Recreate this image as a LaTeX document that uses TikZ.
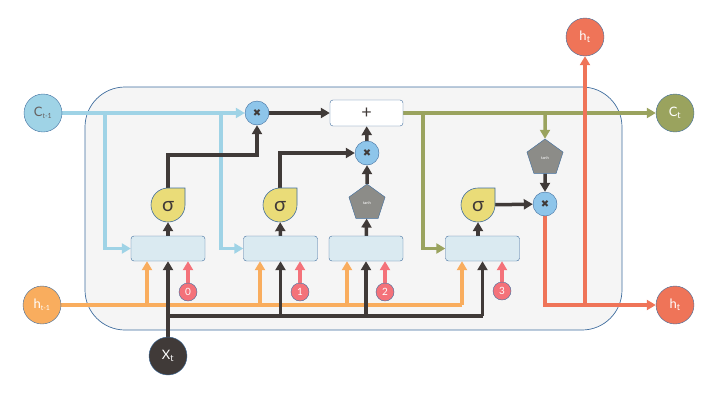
\documentclass[tikz,border=0pt]{standalone}
\usepackage{fontspec}
\setmainfont{Lato}
\newfontfamily\symfont{DejaVu Sans}
\usetikzlibrary{shapes.geometric,arrows.meta}
\definecolor{cblue}{HTML}{9FD3E6}
\definecolor{corange}{HTML}{F9AD5E}
\definecolor{cdark}{HTML}{403A38}
\definecolor{cred}{HTML}{EF7458}
\definecolor{cgreen}{HTML}{9AA35E}
\definecolor{cmul}{HTML}{8EC5EA}
\definecolor{cpink}{HTML}{F4727A}
\definecolor{cgray}{HTML}{8C8C88}
\definecolor{cbox}{HTML}{DAEAF1}
\definecolor{cstroke}{HTML}{3F6D9E}
\definecolor{csig}{HTML}{EADC78}
\pgfdeclarelayer{back}\pgfdeclarelayer{bg}\pgfsetlayers{back,bg,main}
\tikzset{
 io/.style={circle,draw=cstroke,minimum size=38pt,inner sep=0pt,font=\fontsize{13}{13}\selectfont},
 mul/.style={circle,draw=cstroke,fill=cmul,minimum size=24pt,inner sep=0pt,font=\fontsize{10}{10}\selectfont\symfont,text=cdark},
 gbox/.style={rectangle,rounded corners=3pt,draw=cstroke,fill=cbox,minimum width=74pt,minimum height=25pt,inner sep=0pt},
 num/.style={circle,draw=cstroke,fill=cpink,minimum size=18pt,inner sep=0pt,text=white,font=\fontsize{10}{10}\selectfont},
 tanhs/.style={regular polygon,regular polygon sides=5,draw=cstroke,fill=cgray,minimum size=38pt,inner sep=0pt,text=white,font=\fontsize{4}{4}\selectfont},
 sigs/.style={circle,minimum size=34pt,inner sep=0pt,font=\fontsize{20}{20}\selectfont,text=cdark},
 ln/.style={line width=3.5pt,-{Triangle[length=9pt,width=10pt]}},
 lnn/.style={line width=3.5pt},
}
\newcommand\sigshape[1]{\path[draw=cstroke,fill=csig,line width=0.6pt] (#1.center) ++(17,-17) -- ++(0,17) arc[start angle=0,end angle=270,radius=17] -- cycle;}
\begin{document}
\begin{tikzpicture}[x=1pt,y=-1pt]
\useasboundingbox (0,0) rectangle (720,405);
\begin{pgfonlayer}{back}
\draw[cstroke,fill=black!4,rounded corners=40pt,line width=0.7pt] (85,87) rectangle (622,330);
\end{pgfonlayer}
\node[io,fill=cblue,text=cdark!80] (c0) at (43,113) {C\textsubscript{\fontsize{7}{7}\selectfont t-1}};
\node[io,fill=corange,text=white] (h0) at (42,305) {h\textsubscript{\fontsize{7}{7}\selectfont t-1}};
\node[io,fill=cdark,text=white] (x) at (168,356) {X\textsubscript{t}};
\node[io,fill=cred,text=white] (ht) at (585,37) {h\textsubscript{t}};
\node[io,fill=cred,text=white] (hr) at (675,305) {h\textsubscript{t}};
\node[io,fill=cgreen,text=white] (ct) at (675,113) {C\textsubscript{t}};
\node[mul] (m1) at (257,113) {✖};
\node[mul] (m2) at (367,153) {✖};
\node[mul] (m3) at (545,204) {✖};
\node[rectangle,rounded corners=3pt,draw=cstroke,fill=white,minimum width=73pt,minimum height=26pt,font=\fontsize{18}{18}\selectfont,text=cdark] (plus) at (366.5,113) {+};
\node[gbox] (b1) at (168,248.5) {};
\node[gbox] (b2) at (280.5,248.5) {};
\node[gbox] (b3) at (366,248.5) {};
\node[gbox] (b4) at (482.5,248.5) {};
\node[sigs] (s1) at (168,205) {};
\node[sigs] (s2) at (280,205) {};
\node[sigs] (s3) at (478,205) {};
\sigshape{s1}\sigshape{s2}\sigshape{s3}
\node[sigs] at (168,207) {σ};
\node[sigs] at (280,207) {σ};
\node[sigs] at (478,207) {σ};
\node[tanhs] (t1) at (367,203) {tanh};
\node[tanhs] (t2) at (545,158) {tanh};
\node[num] (n0) at (188,292) {0};
\node[num] (n1) at (300,292) {1};
\node[num] (n2) at (385,292) {2};
\node[num] (n3) at (502,291) {3};
\coordinate (cb1) at (105,113);
\coordinate (cb2) at (221,113);
\coordinate (gb1) at (423,113);
\coordinate (gb2) at (545,113);
\coordinate (xc) at (168,316);
\coordinate (rc) at (585,304);
\begin{pgfonlayer}{bg}
\draw[ln,cblue] (c0) -- (m1);
\draw[ln,cblue] (cb1) |- (b1.west);
\draw[ln,cblue] (cb2) |- (b2.west);
\draw[ln,cdark] (m1) -- (plus);
\draw[lnn,corange] (h0) -- (462,305);
\foreach \xx/\b in {147/b1,260/b2,347/b3,462/b4}
  \draw[ln,corange] (\xx,305) -- (\b.south -| \xx,0);
\draw[ln,cdark] (x) -- (b1.south);
\draw[lnn,cdark] (xc) -- (483,316);
\foreach \b in {b2,b3,b4}
  \draw[ln,cdark] (\b.south |- xc) -- (\b.south);
\foreach \n/\b in {n0/b1,n1/b2,n2/b3,n3/b4}
  \draw[ln,cpink] (\n) -- (\b.south -| \n);
\draw[ln,cdark] (b1) -- (s1);
\draw[ln,cdark] (b2) -- (s2);
\draw[ln,cdark] (b3) -- (t1);
\draw[ln,cdark] (b4.north -| s3) -- (s3);
\draw[ln,cdark] (s1.north) |- (257,155) -- (m1);
\draw[ln,cdark] (s2.north) |- (m2);
\draw[ln,cdark] (t1) -- (m2);
\draw[ln,cdark] (m2) -- (plus);
\draw[ln,cgreen] (plus) -- (ct);
\draw[ln,cgreen] (gb1) |- (b4.west);
\draw[ln,cgreen] (gb2) -- (t2);
\draw[ln,cdark] (t2) -- (m3);
\draw[ln,cdark] (s3) -- (m3);
\draw[ln,cred] (m3) |- (hr);
\draw[ln,cred] (rc) -- (ht);
\end{pgfonlayer}
\end{tikzpicture}
\end{document}
